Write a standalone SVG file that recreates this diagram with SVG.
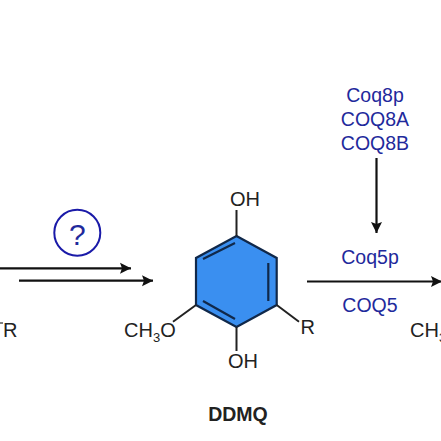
<svg xmlns="http://www.w3.org/2000/svg" width="441" height="441" viewBox="0 0 441 441">
<style>
text{font-family:"Liberation Sans",Arial,sans-serif}
.k{fill:#222;font-size:20px}
.b{fill:#1f2a9c;font-size:19.500px;text-anchor:middle}
.c{stroke:#111;stroke-width:2.200;fill:none}
.bond{stroke:#222;stroke-width:2;fill:none}
</style>
<defs><marker id="a" markerUnits="userSpaceOnUse" markerWidth="13" markerHeight="14" refX="11" refY="7" orient="auto"><path d="M0 1.500L11 7L0 12.500L2 7Z" fill="#111"/></marker></defs>
<rect width="441" height="441" fill="#fff"/>
<g id="connectors">
<path class="c" d="M0 268.300H131" marker-end="url(#a)"/>
<path class="c" d="M19 280.700H153" marker-end="url(#a)"/>
<path class="c" d="M307 281.500H442" marker-end="url(#a)"/>
<path class="c" d="M376.500 158V233" marker-end="url(#a)"/>
</g>
<g id="enzyme-unknown">
<circle cx="77.300" cy="232.700" r="23" fill="#fff" stroke="#1a1aa8" stroke-width="2"/>
<text x="77.300" y="245" text-anchor="middle" font-size="30" fill="#1f2a9c">?</text>
</g>
<g id="DDMQ">
<path d="M236.500 236L276.700 258V305L236.500 327L196 305V258Z" fill="#3a8ff0" stroke="#10284a" stroke-width="2.200"/>
<path d="M203 259L235 243M268.300 263V301M203 301L235 319" stroke="#10284a" stroke-width="2.200" fill="none"/>
<path class="bond" d="M236.500 236V210M236.500 327V351M196 305L173 321.700M276.700 305L299 321.700"/>
<text class="k" x="230" y="206">OH</text>
<text class="k" x="228" y="368">OH</text>
<text class="k" x="124" y="337">CH<tspan font-size="13" dy="5">3</tspan><tspan dy="-5">O</tspan></text>
<text class="k" x="300.500" y="334">R</text>
<text x="238" y="420.500" text-anchor="middle" font-size="19.500" font-weight="700" fill="#222">DDMQ</text>
</g>
<g id="left-fragment"><path d="M0 323H3" stroke="#555" stroke-width="1.500"/><text class="k" x="3" y="337">R</text></g>
<g id="right-fragment"><text class="k" x="410" y="337">CH<tspan font-size="13" dy="5">3</tspan></text></g>
<g id="enzymes-top">
<text class="b" x="375" y="102">Coq8p</text>
<text class="b" x="375" y="126">COQ8A</text>
<text class="b" x="375" y="150">COQ8B</text>
</g>
<g id="enzymes-reaction">
<text class="b" x="370" y="264">Coq5p</text>
<text class="b" x="370" y="312">COQ5</text>
</g>
</svg>
